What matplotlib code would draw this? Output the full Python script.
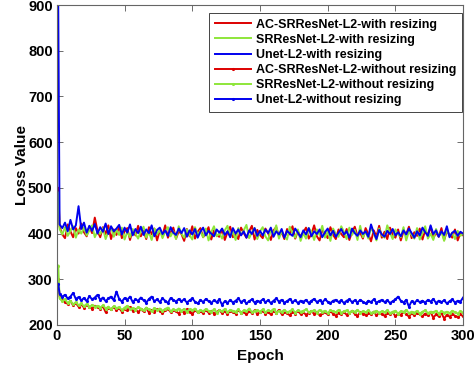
import numpy as np
import matplotlib
matplotlib.use('Agg')
from matplotlib import pyplot as plt

# epoch 1, then every 2nd epoch up to 300
epochs = np.r_[1, np.arange(2, 301, 2)]

labels = [
    'AC-SRResNet-L2-with resizing',
    'SRResNet-L2-with resizing',
    'Unet-L2-with resizing',
    'AC-SRResNet-L2-without resizing',
    'SRResNet-L2-without resizing',
    'Unet-L2-without resizing',
]

ac_with = [500,
    415, 398, 390, 420, 405, 392, 412, 400, 422, 403, 394, 416, 401, 435, 406,
    392, 414, 399, 418, 388, 409, 397, 416, 390, 405, 412, 386, 408, 396, 417,
    394, 406, 388, 414, 398, 411, 385, 407, 396, 418, 391, 403, 413, 389, 405,
    399, 384, 410, 394, 416, 389, 404, 412, 392, 401, 414, 387, 407, 396, 393,
    410, 386, 403, 415, 392, 399, 388, 413, 401, 391, 405, 417, 387, 408, 397,
    390, 411, 401, 386, 407, 414, 394, 403, 388, 410, 398, 416, 389, 405, 393,
    403, 413, 389, 399, 418, 394, 385, 407, 401, 390, 414, 397, 388, 409, 399,
    392, 410, 386, 404, 415, 395, 402, 389, 412, 399, 383, 407, 394, 417, 391,
    404, 388, 413, 398, 391, 409, 385, 405, 399, 415, 390, 403, 395, 411, 387,
    407, 397, 415, 390, 402, 393, 412, 386, 405, 398, 391, 409, 385, 401, 396]

sr_with = [490,
    410, 398, 414, 395, 406, 416, 391, 409, 400, 413, 396, 407, 418, 392, 405,
    399, 412, 388, 404, 415, 393, 408, 397, 413, 387, 404, 392, 410, 400, 389,
    406, 415, 391, 403, 386, 411, 398, 408, 390, 404, 414, 394, 405, 388, 416,
    400, 391, 409, 397, 387, 414, 398, 406, 392, 411, 385, 403, 416, 394, 401,
    389, 407, 417, 393, 404, 386, 412, 397, 407, 419, 390, 402, 412, 388, 405,
    414, 394, 385, 409, 399, 418, 389, 405, 394, 387, 415, 401, 391, 409, 384,
    401, 389, 412, 404, 386, 409, 397, 417, 391, 405, 384, 411, 399, 393, 416,
    404, 388, 413, 397, 408, 386, 417, 392, 404, 389, 413, 401, 385, 411, 396,
    391, 418, 402, 388, 409, 399, 392, 414, 385, 405, 397, 389, 412, 387, 401,
    416, 389, 400, 386, 410, 394, 404, 384, 411, 393, 402, 388, 406, 395, 400]

unet_with = [900,
    420, 412, 424, 405, 430, 409, 418, 460, 410, 424, 402, 417, 406, 421, 400,
    414, 404, 422, 399, 416, 405, 411, 419, 398, 413, 402, 420, 396, 410, 401,
    415, 397, 409, 401, 418, 394, 408, 413, 399, 407, 395, 414, 402, 397, 411,
    401, 412, 393, 407, 398, 410, 391, 404, 413, 396, 406, 400, 394, 409, 402,
    411, 397, 405, 392, 412, 400, 409, 396, 405, 391, 407, 399, 412, 395, 406,
    396, 409, 401, 413, 393, 405, 398, 410, 391, 406, 400, 395, 411, 402, 392,
    407, 398, 412, 394, 405, 399, 409, 392, 403, 411, 396, 406, 393, 402, 410,
    398, 405, 391, 411, 401, 395, 407, 399, 405, 393, 420, 402, 388, 408, 398,
    393, 406, 399, 410, 396, 403, 394, 407, 398, 411, 401, 391, 405, 396, 413,
    403, 395, 418, 399, 407, 393, 405, 397, 416, 392, 402, 406, 395, 404, 400]

ac_without = [300,
    262, 255, 250, 246, 252, 243, 248, 240, 245, 238, 244, 240, 236, 242, 239,
    235, 241, 228, 238, 234, 240, 232, 237, 229, 236, 233, 239, 231, 235, 228,
    234, 230, 237, 227, 233, 229, 235, 231, 226, 232, 236, 228, 233, 230, 225,
    231, 227, 234, 229, 224, 232, 228, 230, 226, 233, 227, 231, 225, 229, 232,
    226, 230, 224, 231, 228, 225, 233, 227, 229, 223, 230, 226, 232, 224, 228,
    231, 225, 229, 223, 230, 227, 233, 224, 228, 226, 221, 229, 225, 231, 224,
    228, 222, 227, 230, 224, 229, 221, 226, 228, 223, 230, 225, 220, 227, 224,
    229, 222, 226, 231, 224, 220, 228, 225, 222, 227, 223, 229, 221, 226, 224,
    220, 227, 223, 228, 219, 225, 222, 229, 224, 218, 226, 221, 227, 223, 219,
    225, 221, 228, 216, 223, 219, 226, 214, 222, 218, 224, 220, 217, 223, 219]

sr_without = [330,
    258, 252, 256, 248, 253, 245, 250, 243, 247, 241, 246, 239, 244, 240, 242,
    238, 243, 236, 240, 234, 241, 237, 239, 233, 238, 242, 235, 237, 233, 239,
    236, 232, 238, 234, 230, 237, 233, 236, 231, 235, 238, 230, 234, 232, 236,
    231, 235, 229, 234, 232, 236, 228, 233, 230, 235, 231, 229, 234, 227, 232,
    230, 235, 228, 233, 231, 229, 234, 227, 232, 230, 236, 228, 231, 233, 229,
    234, 228, 232, 230, 235, 227, 231, 229, 233, 228, 230, 234, 227, 232, 229,
    231, 234, 228, 230, 232, 227, 233, 229, 231, 226, 232, 230, 228, 233, 227,
    230, 232, 226, 231, 229, 233, 227, 230, 228, 232, 226, 229, 231, 227, 230,
    228, 232, 226, 229, 231, 225, 230, 228, 233, 226, 229, 227, 231, 225, 229,
    232, 226, 229, 228, 231, 225, 230, 227, 229, 226, 231, 228, 225, 230, 227]

unet_without = [290,
    268, 262, 266, 258, 262, 270, 257, 261, 254, 259, 252, 263, 256, 260, 266,
    255, 260, 252, 258, 262, 254, 273, 257, 251, 259, 255, 262, 250, 256, 253,
    260, 254, 249, 257, 262, 252, 256, 250, 258, 253, 248, 259, 255, 251, 257,
    252, 256, 249, 254, 258, 251, 247, 255, 250, 257, 252, 248, 254, 250, 256,
    244, 252, 248, 255, 249, 253, 258, 250, 254, 247, 252, 256, 249, 253, 251,
    256, 250, 254, 248, 253, 258, 251, 255, 249, 252, 257, 250, 254, 248, 253,
    251, 255, 248, 253, 257, 250, 254, 249, 256, 251, 248, 253, 255, 250, 254,
    248, 253, 256, 250, 254, 249, 255, 251, 247, 253, 250, 256, 249, 252, 255,
    250, 254, 248, 252, 256, 262, 253, 249, 255, 240, 252, 248, 254, 250, 253,
    249, 255, 251, 257, 248, 253, 250, 254, 247, 252, 256, 249, 253, 251, 260]

series = [ac_with, sr_with, unet_with, ac_without, sr_without, unet_without]
colors = ['#dd0000', '#8ee63a', '#0000ee', '#dd0000', '#8ee63a', '#0000ee']
markers = [None, None, None, '.', '.', '.']

plt.rcParams['font.family'] = ['Liberation Sans', 'DejaVu Sans']
plt.rcParams['font.weight'] = 'bold'

fig = plt.figure(figsize=(4.74, 3.92), dpi=100)
ax = fig.add_axes([0.120, 0.171, 0.857, 0.816])

for vals, col, mk, lab in zip(series, colors, markers, labels):
    ax.plot(epochs, vals, color=col, lw=1.4, marker=mk, markersize=2.5,
            label=lab)

ax.set_xlim(0, 300)
ax.set_ylim(200, 900)
ax.set_xticks(np.arange(0, 301, 50))
ax.set_yticks(np.arange(200, 901, 100))
ax.tick_params(direction='in', top=True, right=True, labelsize=10.5,
               length=4, width=0.6, color='#555555', pad=3)
for lab in ax.get_xticklabels() + ax.get_yticklabels():
    lab.set_fontweight('bold')
for sp in ax.spines.values():
    sp.set_color('#666666')
    sp.set_linewidth(0.8)

ax.set_xlabel('Epoch', fontsize=11, fontweight='bold', labelpad=4)
ax.set_ylabel('Loss Value', fontsize=11, fontweight='bold', labelpad=-1)

leg = ax.legend(loc='upper right', bbox_to_anchor=(0.998, 0.975),
                fontsize=9.0, handlelength=2.9, handletextpad=0.4,
                labelspacing=0.25, borderpad=0.45, fancybox=False,
                framealpha=1, edgecolor='#444444', borderaxespad=0)
leg.get_frame().set_linewidth(0.7)
for t in leg.get_texts():
    t.set_fontweight('bold')

fig.savefig('out.png', dpi=100)
